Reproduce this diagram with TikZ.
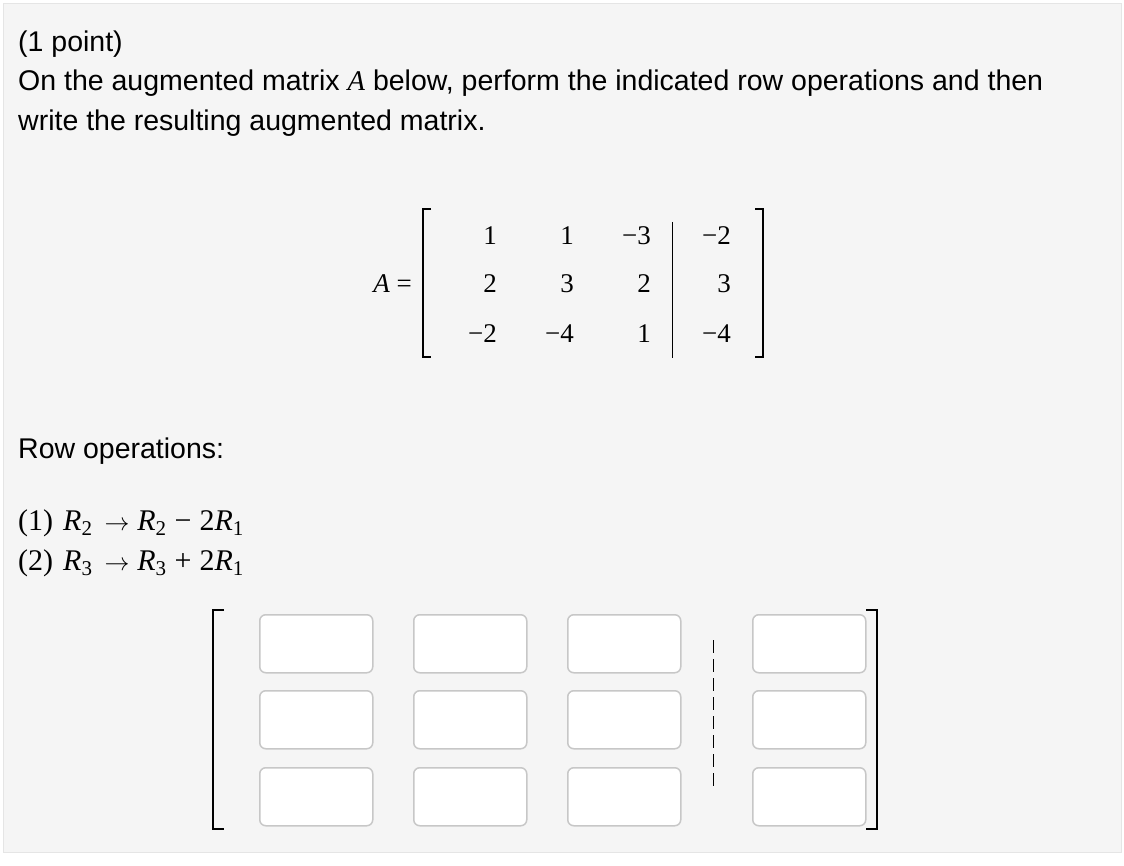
\documentclass[tikz,border=0pt]{standalone}
\usepackage{fontspec}
\setmainfont{Liberation Sans}
\newfontfamily\serf{Liberation Serif}
\begin{document}
\begin{tikzpicture}[x=1pt,y=-1pt,
  txt/.style={anchor=base west,inner sep=0pt,font=\fontsize{28.5}{32}\selectfont},
  ent/.style={anchor=base east,inner sep=0pt,font=\serf\fontsize{27}{31}\selectfont},
  ops/.style={anchor=base west,inner sep=0pt,font=\serf\fontsize{30}{34}\selectfont},
  ansbox/.style={draw=black!22,line width=1.5pt,fill=white,rounded corners=6pt,minimum width=113pt,minimum height=58pt,anchor=north west,inner sep=0pt},
  brk/.style={line width=2pt}]
\useasboundingbox (0,0) rectangle (1124,866);
\fill[white] (0,0) rectangle (1124,866);
\fill[black!4,draw=black!10] (3,3) rectangle (1121,852);
\node[txt] (t1) at (18,52) {(1 point)};
\node[txt] (t2) at (18,91) {On the augmented matrix {\serf\itshape A} below, perform the indicated row operations and then};
\node[txt] (t3) at (18,131) {write the resulting augmented matrix.};
% matrix A
\node[ent] (aeq) at (412,293) {\itshape A\upshape\ =};
\foreach \r/\y/\a/\b/\c/\d in {1/245/1/1/−3/−2, 2/293/2/3/2/3, 3/343/−2/−4/1/−4}{
  \node[ent] (a\r1) at (497,\y) {\a};
  \node[ent] (a\r2) at (574,\y) {\b};
  \node[ent] (a\r3) at (651,\y) {\c};
  \node[ent] (a\r4) at (731,\y) {\d};
}
\draw[brk] (431,209) -- (423,209) -- (423,357) -- (431,357);
\draw[brk] (755,209) -- (763,209) -- (763,357) -- (755,357);
\draw[line width=1pt] (672,222) -- (672,358);
\node[txt] (ro) at (18,458) {Row operations:};
\node[ops] (op1) at (18,530) {(1)\hspace{10pt}\textit{R}\textsubscript{2}\hspace{12pt}$\rightarrow$\hspace{8pt}\textit{R}\textsubscript{2}\hspace{8pt}−\hspace{8pt}2\textit{R}\textsubscript{1}};
\node[ops] (op2) at (18,570) {(2)\hspace{10pt}\textit{R}\textsubscript{3}\hspace{12pt}$\rightarrow$\hspace{8pt}\textit{R}\textsubscript{3}\hspace{8pt}+\hspace{8pt}2\textit{R}\textsubscript{1}};
% answer boxes
\foreach \r/\y in {1/614,2/690,3/767}{
  \foreach \c/\x in {1/259,2/413,3/567,4/752}{
    \node[ansbox] (b\r\c) at (\x,\y) {};
  }
}
\draw[line width=2.5pt] (224,610) -- (213,610) -- (213,829) -- (224,829);
\draw[line width=2.5pt] (866,610) -- (877,610) -- (877,829) -- (866,829);
\draw[line width=1pt,dash pattern=on 13pt off 6pt] (713,640) -- (713,790);
\end{tikzpicture}
\end{document}
